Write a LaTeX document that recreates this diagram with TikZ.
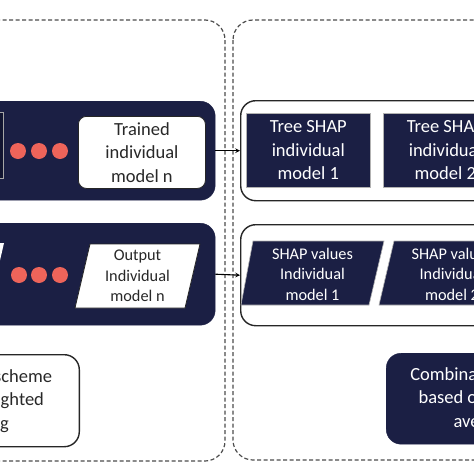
\documentclass[tikz,border=0pt]{standalone}
\usepackage{fontspec}
\setmainfont{Carlito}
\usetikzlibrary{positioning}
\definecolor{navy}{RGB}{27,31,68}
\definecolor{navydeep}{RGB}{18,21,48}
\definecolor{dotred}{RGB}{238,100,90}
\definecolor{inktext}{RGB}{40,40,40}
\tikzset{
  stage/.style={draw=black!70, line width=1.2pt, dash pattern=on 4pt off 2.5pt, rounded corners=20pt},
  panel/.style={fill=navy, draw=navy, rounded corners=15pt, inner sep=0pt},
  holder/.style={fill=white, draw=black!85, line width=1.4pt, rounded corners=15pt, inner sep=0pt},
  bigtext/.style={align=center, font=\fontsize{18.5}{23.5}\selectfont},
  smalltext/.style={align=center, font=\fontsize{16.3}{20.5}\selectfont},
  darkbox/.style={fill=navy, draw=black!30, line width=0.6pt, inner sep=0pt, text=white},
  flow/.style={->, >=stealth, line width=1.1pt, black}
}
\begin{document}
\begin{tikzpicture}[x=1pt,y=-1pt]
  \useasboundingbox (0,0) rectangle (474,474);
  \clip (0,0) rectangle (474,474);

  %%%%% stages %%%%%
  \draw[stage] (-300,20) rectangle (225,461);
  \draw[stage] (233,20) rectangle (700,460);

  %%%%% left: trained models %%%%%
  \node[panel, anchor=north west, minimum width=335pt, minimum height=99pt] (trainrow) at (-120,101) {};
  \draw[fill=navydeep, draw=black!35, line width=0.6pt] (-120,112) rectangle (3,178);
  \foreach \x in {18,39,60}
    \fill[dotred] (\x,151) circle (8pt);
  \node[fill=white, draw=black!85, line width=0.8pt, rounded corners=8pt, anchor=north west,
        minimum width=127pt, minimum height=72pt, inner sep=0pt, text=inktext, bigtext] (trainedn)
        at (78,116) {Trained\\individual\\model n};

  %%%%% left: model outputs %%%%%
  \node[panel, anchor=north west, minimum width=335pt, minimum height=102pt] (outrow) at (-120,223) {};
  \fill[white] (-110,243) -- (4,243) -- (-11,308) -- (-125,308) -- cycle;
  \foreach \x in {19,39,60}
    \fill[dotred] (\x,275) circle (8pt);
  \draw[fill=white, draw=black!85, line width=0.8pt] (75,308) -- (90,244) -- (200,244) -- (185,308) -- cycle;
  \node[text=inktext, smalltext] (outputn) at (137.5,276) {Output\\Individual\\model n};

  %%%%% left: weighting %%%%%
  \node[holder, anchor=north east, minimum width=213pt, minimum height=92pt, text=inktext, bigtext] (weightbox)
        at (80,354) {Combination scheme\\based on weighted\\averaging};

  %%%%% right: tree shap %%%%%
  \node[holder, anchor=north west, minimum width=400pt, minimum height=100pt] (shaprow) at (240,100) {};
  \node[darkbox, bigtext, anchor=north west, minimum width=124pt, minimum height=74pt] (tree1)
        at (246,113) {Tree SHAP\\individual\\model 1};
  \node[darkbox, bigtext, anchor=north west, minimum width=124pt, minimum height=74pt] (tree2)
        at (383,113) {Tree SHAP\\individual\\model 2};

  %%%%% right: shap values %%%%%
  \node[holder, anchor=north west, minimum width=400pt, minimum height=101pt] (valrow) at (240,224) {};
  \draw[fill=navy, draw=black!30, line width=0.6pt] (241,305) -- (253,241) -- (384,241) -- (369,305) -- cycle;
  \node[text=white, smalltext] (values1) at (312.5,274) {SHAP values\\Individual\\model 1};
  \draw[fill=navy, draw=black!30, line width=0.6pt] (379,305) -- (394,241) -- (525,241) -- (510,305) -- cycle;
  \node[text=white, smalltext] (values2) at (452,274) {SHAP values\\Individual\\model 2};

  %%%%% right: combination %%%%%
  \node[panel, anchor=north west, minimum width=207pt, minimum height=91pt, text=white, bigtext] (combobox)
        at (386,353) {Combination scheme\\based on weighted\\averaging};

  %%%%% connectors %%%%%
  \draw[flow] (trainrow.east) -- (shaprow.west);
  \draw[flow] (outrow.east) -- (valrow.west);
\end{tikzpicture}
\end{document}
